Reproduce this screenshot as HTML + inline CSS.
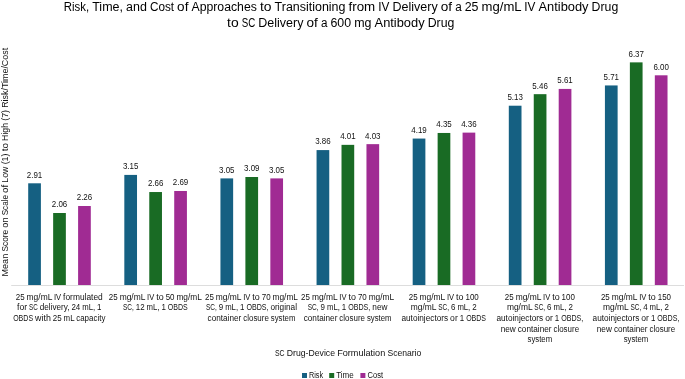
<!DOCTYPE html>
<html><head><meta charset="utf-8"><title>Risk, Time, and Cost chart</title>
<style>
html,body{margin:0;padding:0;background:#fff;}
body{width:685px;height:379px;overflow:hidden;}
svg{display:block;font-family:"Liberation Sans", sans-serif;}
</style></head><body>
<svg width="685" height="379" viewBox="0 0 685 379">
<rect width="685" height="379" fill="#fff"/>
<text y="10.70" font-size="12.24" fill="#000"><tspan x="63.74" textLength="25.38" lengthAdjust="spacingAndGlyphs">Risk,</tspan> <tspan x="92.20" textLength="30.77" lengthAdjust="spacingAndGlyphs">Time,</tspan> <tspan x="126.04" textLength="20.80" lengthAdjust="spacingAndGlyphs">and</tspan> <tspan x="149.91" textLength="24.12" lengthAdjust="spacingAndGlyphs">Cost</tspan> <tspan x="177.12" textLength="11.33" lengthAdjust="spacingAndGlyphs">of</tspan> <tspan x="191.52" textLength="65.31" lengthAdjust="spacingAndGlyphs">Approaches</tspan> <tspan x="259.91" textLength="11.59" lengthAdjust="spacingAndGlyphs">to</tspan> <tspan x="274.59" textLength="70.89" lengthAdjust="spacingAndGlyphs">Transitioning</tspan> <tspan x="348.55" textLength="26.70" lengthAdjust="spacingAndGlyphs">from</tspan> <tspan x="378.34" textLength="11.14" lengthAdjust="spacingAndGlyphs">IV</tspan> <tspan x="392.55" textLength="45.11" lengthAdjust="spacingAndGlyphs">Delivery</tspan> <tspan x="440.74" textLength="11.33" lengthAdjust="spacingAndGlyphs">of</tspan> <tspan x="455.15" textLength="6.52" lengthAdjust="spacingAndGlyphs">a</tspan> <tspan x="464.74" textLength="13.78" lengthAdjust="spacingAndGlyphs">25</tspan> <tspan x="481.60" textLength="39.58" lengthAdjust="spacingAndGlyphs">mg/mL</tspan> <tspan x="524.26" textLength="11.14" lengthAdjust="spacingAndGlyphs">IV</tspan> <tspan x="538.48" textLength="50.06" lengthAdjust="spacingAndGlyphs">Antibody</tspan> <tspan x="591.62" textLength="26.64" lengthAdjust="spacingAndGlyphs">Drug</tspan></text>
<text y="26.80" font-size="12.24" fill="#000"><tspan x="227.04" textLength="11.59" lengthAdjust="spacingAndGlyphs">to</tspan> <tspan x="241.72" textLength="13.50" lengthAdjust="spacingAndGlyphs">SC</tspan> <tspan x="258.29" textLength="45.11" lengthAdjust="spacingAndGlyphs">Delivery</tspan> <tspan x="306.48" textLength="11.33" lengthAdjust="spacingAndGlyphs">of</tspan> <tspan x="320.89" textLength="6.52" lengthAdjust="spacingAndGlyphs">a</tspan> <tspan x="330.48" textLength="20.67" lengthAdjust="spacingAndGlyphs">600</tspan> <tspan x="354.23" textLength="17.27" lengthAdjust="spacingAndGlyphs">mg</tspan> <tspan x="374.57" textLength="50.06" lengthAdjust="spacingAndGlyphs">Antibody</tspan> <tspan x="427.72" textLength="26.64" lengthAdjust="spacingAndGlyphs">Drug</tspan></text>
<g transform="translate(7.90 276.57) rotate(-90)">
<text y="0.00" font-size="8.74" fill="#111"><tspan x="0.00" textLength="22.86" lengthAdjust="spacingAndGlyphs">Mean</tspan> <tspan x="25.05" textLength="21.69" lengthAdjust="spacingAndGlyphs">Score</tspan> <tspan x="48.92" textLength="10.20" lengthAdjust="spacingAndGlyphs">on</tspan> <tspan x="61.31" textLength="20.19" lengthAdjust="spacingAndGlyphs">Scale</tspan> <tspan x="83.69" textLength="8.08" lengthAdjust="spacingAndGlyphs">of</tspan> <tspan x="93.95" textLength="16.09" lengthAdjust="spacingAndGlyphs">Low</tspan> <tspan x="112.23" textLength="10.80" lengthAdjust="spacingAndGlyphs">(1)</tspan> <tspan x="125.22" textLength="8.27" lengthAdjust="spacingAndGlyphs">to</tspan> <tspan x="135.67" textLength="17.94" lengthAdjust="spacingAndGlyphs">High</tspan> <tspan x="155.80" textLength="10.80" lengthAdjust="spacingAndGlyphs">(7)</tspan> <tspan x="168.78" textLength="59.97" lengthAdjust="spacingAndGlyphs">Risk/Time/Cost</tspan></text>
</g>
<rect x="11.2" y="285.05" width="672.80" height="0.9" fill="#DADADA"/>
<rect x="28.20" y="183.30" width="12.7" height="101.70" fill="#156082"/>
<text y="177.70" font-size="8.30" fill="#111"><tspan x="26.82" textLength="15.47" lengthAdjust="spacingAndGlyphs">2.91</tspan></text>
<rect x="53.15" y="213.00" width="12.7" height="72.00" fill="#196B24"/>
<text y="207.40" font-size="8.30" fill="#111"><tspan x="51.77" textLength="15.47" lengthAdjust="spacingAndGlyphs">2.06</tspan></text>
<rect x="78.10" y="206.01" width="12.7" height="78.99" fill="#A02B93"/>
<text y="200.41" font-size="8.30" fill="#111"><tspan x="76.72" textLength="15.47" lengthAdjust="spacingAndGlyphs">2.26</tspan></text>
<text y="299.70" font-size="8.30" fill="#111"><tspan x="15.79" textLength="8.84" lengthAdjust="spacingAndGlyphs">25</tspan> <tspan x="26.60" textLength="25.44" lengthAdjust="spacingAndGlyphs">mg/mL</tspan> <tspan x="54.01" textLength="7.16" lengthAdjust="spacingAndGlyphs">IV</tspan> <tspan x="63.14" textLength="39.59" lengthAdjust="spacingAndGlyphs">formulated</tspan></text>
<text y="310.35" font-size="8.30" fill="#111"><tspan x="16.98" textLength="10.14" lengthAdjust="spacingAndGlyphs">for</tspan> <tspan x="29.09" textLength="8.67" lengthAdjust="spacingAndGlyphs">SC</tspan> <tspan x="39.73" textLength="29.73" lengthAdjust="spacingAndGlyphs">delivery,</tspan> <tspan x="71.43" textLength="8.84" lengthAdjust="spacingAndGlyphs">24</tspan> <tspan x="82.24" textLength="12.91" lengthAdjust="spacingAndGlyphs">mL,</tspan> <tspan x="97.12" textLength="4.42" lengthAdjust="spacingAndGlyphs">1</tspan></text>
<text y="321.00" font-size="8.30" fill="#111"><tspan x="13.16" textLength="19.92" lengthAdjust="spacingAndGlyphs">OBDS</tspan> <tspan x="35.05" textLength="15.77" lengthAdjust="spacingAndGlyphs">with</tspan> <tspan x="52.78" textLength="8.84" lengthAdjust="spacingAndGlyphs">25</tspan> <tspan x="63.60" textLength="10.66" lengthAdjust="spacingAndGlyphs">mL</tspan> <tspan x="76.22" textLength="29.14" lengthAdjust="spacingAndGlyphs">capacity</tspan></text>
<rect x="124.32" y="174.91" width="12.7" height="110.09" fill="#156082"/>
<text y="169.31" font-size="8.30" fill="#111"><tspan x="122.94" textLength="15.47" lengthAdjust="spacingAndGlyphs">3.15</tspan></text>
<rect x="149.27" y="192.03" width="12.7" height="92.97" fill="#196B24"/>
<text y="186.43" font-size="8.30" fill="#111"><tspan x="147.89" textLength="15.47" lengthAdjust="spacingAndGlyphs">2.66</tspan></text>
<rect x="174.22" y="190.98" width="12.7" height="94.02" fill="#A02B93"/>
<text y="185.38" font-size="8.30" fill="#111"><tspan x="172.84" textLength="15.47" lengthAdjust="spacingAndGlyphs">2.69</tspan></text>
<text y="299.70" font-size="8.30" fill="#111"><tspan x="108.87" textLength="8.84" lengthAdjust="spacingAndGlyphs">25</tspan> <tspan x="119.68" textLength="25.44" lengthAdjust="spacingAndGlyphs">mg/mL</tspan> <tspan x="147.09" textLength="7.16" lengthAdjust="spacingAndGlyphs">IV</tspan> <tspan x="156.22" textLength="7.45" lengthAdjust="spacingAndGlyphs">to</tspan> <tspan x="165.64" textLength="8.84" lengthAdjust="spacingAndGlyphs">50</tspan> <tspan x="176.45" textLength="25.44" lengthAdjust="spacingAndGlyphs">mg/mL</tspan></text>
<text y="310.35" font-size="8.30" fill="#111"><tspan x="122.99" textLength="10.81" lengthAdjust="spacingAndGlyphs">SC,</tspan> <tspan x="135.77" textLength="8.84" lengthAdjust="spacingAndGlyphs">12</tspan> <tspan x="146.58" textLength="12.91" lengthAdjust="spacingAndGlyphs">mL,</tspan> <tspan x="161.46" textLength="4.42" lengthAdjust="spacingAndGlyphs">1</tspan> <tspan x="167.85" textLength="19.92" lengthAdjust="spacingAndGlyphs">OBDS</tspan></text>
<rect x="220.44" y="178.40" width="12.7" height="106.60" fill="#156082"/>
<text y="172.80" font-size="8.30" fill="#111"><tspan x="219.06" textLength="15.47" lengthAdjust="spacingAndGlyphs">3.05</tspan></text>
<rect x="245.39" y="177.00" width="12.7" height="108.00" fill="#196B24"/>
<text y="171.40" font-size="8.30" fill="#111"><tspan x="244.01" textLength="15.47" lengthAdjust="spacingAndGlyphs">3.09</tspan></text>
<rect x="270.34" y="178.40" width="12.7" height="106.60" fill="#A02B93"/>
<text y="172.80" font-size="8.30" fill="#111"><tspan x="268.96" textLength="15.47" lengthAdjust="spacingAndGlyphs">3.05</tspan></text>
<text y="299.70" font-size="8.30" fill="#111"><tspan x="204.99" textLength="8.84" lengthAdjust="spacingAndGlyphs">25</tspan> <tspan x="215.80" textLength="25.44" lengthAdjust="spacingAndGlyphs">mg/mL</tspan> <tspan x="243.21" textLength="7.16" lengthAdjust="spacingAndGlyphs">IV</tspan> <tspan x="252.34" textLength="7.45" lengthAdjust="spacingAndGlyphs">to</tspan> <tspan x="261.76" textLength="8.84" lengthAdjust="spacingAndGlyphs">70</tspan> <tspan x="272.57" textLength="25.44" lengthAdjust="spacingAndGlyphs">mg/mL</tspan></text>
<text y="310.35" font-size="8.30" fill="#111"><tspan x="205.98" textLength="10.81" lengthAdjust="spacingAndGlyphs">SC,</tspan> <tspan x="218.76" textLength="4.42" lengthAdjust="spacingAndGlyphs">9</tspan> <tspan x="225.15" textLength="12.91" lengthAdjust="spacingAndGlyphs">mL,</tspan> <tspan x="240.02" textLength="4.42" lengthAdjust="spacingAndGlyphs">1</tspan> <tspan x="246.41" textLength="22.09" lengthAdjust="spacingAndGlyphs">OBDS,</tspan> <tspan x="270.48" textLength="26.55" lengthAdjust="spacingAndGlyphs">original</tspan></text>
<text y="321.00" font-size="8.30" fill="#111"><tspan x="207.56" textLength="33.72" lengthAdjust="spacingAndGlyphs">container</tspan> <tspan x="243.25" textLength="25.59" lengthAdjust="spacingAndGlyphs">closure</tspan> <tspan x="270.81" textLength="24.62" lengthAdjust="spacingAndGlyphs">system</tspan></text>
<rect x="316.56" y="150.09" width="12.7" height="134.91" fill="#156082"/>
<text y="144.49" font-size="8.30" fill="#111"><tspan x="315.18" textLength="15.47" lengthAdjust="spacingAndGlyphs">3.86</tspan></text>
<rect x="341.51" y="144.85" width="12.7" height="140.15" fill="#196B24"/>
<text y="139.25" font-size="8.30" fill="#111"><tspan x="340.13" textLength="15.47" lengthAdjust="spacingAndGlyphs">4.01</tspan></text>
<rect x="366.46" y="144.15" width="12.7" height="140.85" fill="#A02B93"/>
<text y="138.55" font-size="8.30" fill="#111"><tspan x="365.08" textLength="15.47" lengthAdjust="spacingAndGlyphs">4.03</tspan></text>
<text y="299.70" font-size="8.30" fill="#111"><tspan x="301.11" textLength="8.84" lengthAdjust="spacingAndGlyphs">25</tspan> <tspan x="311.92" textLength="25.44" lengthAdjust="spacingAndGlyphs">mg/mL</tspan> <tspan x="339.33" textLength="7.16" lengthAdjust="spacingAndGlyphs">IV</tspan> <tspan x="348.46" textLength="7.45" lengthAdjust="spacingAndGlyphs">to</tspan> <tspan x="357.88" textLength="8.84" lengthAdjust="spacingAndGlyphs">70</tspan> <tspan x="368.69" textLength="25.44" lengthAdjust="spacingAndGlyphs">mg/mL</tspan></text>
<text y="310.35" font-size="8.30" fill="#111"><tspan x="307.80" textLength="10.81" lengthAdjust="spacingAndGlyphs">SC,</tspan> <tspan x="320.58" textLength="4.42" lengthAdjust="spacingAndGlyphs">9</tspan> <tspan x="326.97" textLength="12.91" lengthAdjust="spacingAndGlyphs">mL,</tspan> <tspan x="341.85" textLength="4.42" lengthAdjust="spacingAndGlyphs">1</tspan> <tspan x="348.24" textLength="22.09" lengthAdjust="spacingAndGlyphs">OBDS,</tspan> <tspan x="372.30" textLength="15.14" lengthAdjust="spacingAndGlyphs">new</tspan></text>
<text y="321.00" font-size="8.30" fill="#111"><tspan x="303.68" textLength="33.72" lengthAdjust="spacingAndGlyphs">container</tspan> <tspan x="339.37" textLength="25.59" lengthAdjust="spacingAndGlyphs">closure</tspan> <tspan x="366.93" textLength="24.62" lengthAdjust="spacingAndGlyphs">system</tspan></text>
<rect x="412.68" y="138.56" width="12.7" height="146.44" fill="#156082"/>
<text y="132.96" font-size="8.30" fill="#111"><tspan x="411.30" textLength="15.47" lengthAdjust="spacingAndGlyphs">4.19</tspan></text>
<rect x="437.63" y="132.97" width="12.7" height="152.03" fill="#196B24"/>
<text y="127.37" font-size="8.30" fill="#111"><tspan x="436.25" textLength="15.47" lengthAdjust="spacingAndGlyphs">4.35</tspan></text>
<rect x="462.58" y="132.62" width="12.7" height="152.38" fill="#A02B93"/>
<text y="127.02" font-size="8.30" fill="#111"><tspan x="461.20" textLength="15.47" lengthAdjust="spacingAndGlyphs">4.36</tspan></text>
<text y="299.70" font-size="8.30" fill="#111"><tspan x="408.72" textLength="8.84" lengthAdjust="spacingAndGlyphs">25</tspan> <tspan x="419.54" textLength="25.44" lengthAdjust="spacingAndGlyphs">mg/mL</tspan> <tspan x="446.94" textLength="7.16" lengthAdjust="spacingAndGlyphs">IV</tspan> <tspan x="456.07" textLength="7.45" lengthAdjust="spacingAndGlyphs">to</tspan> <tspan x="465.49" textLength="13.27" lengthAdjust="spacingAndGlyphs">100</tspan></text>
<text y="310.35" font-size="8.30" fill="#111"><tspan x="410.80" textLength="25.44" lengthAdjust="spacingAndGlyphs">mg/mL</tspan> <tspan x="438.21" textLength="10.81" lengthAdjust="spacingAndGlyphs">SC,</tspan> <tspan x="450.99" textLength="4.42" lengthAdjust="spacingAndGlyphs">6</tspan> <tspan x="457.38" textLength="12.91" lengthAdjust="spacingAndGlyphs">mL,</tspan> <tspan x="472.26" textLength="4.42" lengthAdjust="spacingAndGlyphs">2</tspan></text>
<text y="321.00" font-size="8.30" fill="#111"><tspan x="401.43" textLength="46.72" lengthAdjust="spacingAndGlyphs">autoinjectors</tspan> <tspan x="450.12" textLength="7.66" lengthAdjust="spacingAndGlyphs">or</tspan> <tspan x="459.74" textLength="4.42" lengthAdjust="spacingAndGlyphs">1</tspan> <tspan x="466.13" textLength="19.92" lengthAdjust="spacingAndGlyphs">OBDS</tspan></text>
<rect x="508.80" y="105.71" width="12.7" height="179.29" fill="#156082"/>
<text y="100.11" font-size="8.30" fill="#111"><tspan x="507.42" textLength="15.47" lengthAdjust="spacingAndGlyphs">5.13</tspan></text>
<rect x="533.75" y="94.17" width="12.7" height="190.83" fill="#196B24"/>
<text y="88.57" font-size="8.30" fill="#111"><tspan x="532.37" textLength="15.47" lengthAdjust="spacingAndGlyphs">5.46</tspan></text>
<rect x="558.70" y="88.93" width="12.7" height="196.07" fill="#A02B93"/>
<text y="83.33" font-size="8.30" fill="#111"><tspan x="557.32" textLength="15.47" lengthAdjust="spacingAndGlyphs">5.61</tspan></text>
<text y="299.70" font-size="8.30" fill="#111"><tspan x="504.84" textLength="8.84" lengthAdjust="spacingAndGlyphs">25</tspan> <tspan x="515.66" textLength="25.44" lengthAdjust="spacingAndGlyphs">mg/mL</tspan> <tspan x="543.06" textLength="7.16" lengthAdjust="spacingAndGlyphs">IV</tspan> <tspan x="552.19" textLength="7.45" lengthAdjust="spacingAndGlyphs">to</tspan> <tspan x="561.61" textLength="13.27" lengthAdjust="spacingAndGlyphs">100</tspan></text>
<text y="310.35" font-size="8.30" fill="#111"><tspan x="506.92" textLength="25.44" lengthAdjust="spacingAndGlyphs">mg/mL</tspan> <tspan x="534.33" textLength="10.81" lengthAdjust="spacingAndGlyphs">SC,</tspan> <tspan x="547.11" textLength="4.42" lengthAdjust="spacingAndGlyphs">6</tspan> <tspan x="553.50" textLength="12.91" lengthAdjust="spacingAndGlyphs">mL,</tspan> <tspan x="568.38" textLength="4.42" lengthAdjust="spacingAndGlyphs">2</tspan></text>
<text y="321.00" font-size="8.30" fill="#111"><tspan x="496.46" textLength="46.72" lengthAdjust="spacingAndGlyphs">autoinjectors</tspan> <tspan x="545.15" textLength="7.66" lengthAdjust="spacingAndGlyphs">or</tspan> <tspan x="554.77" textLength="4.42" lengthAdjust="spacingAndGlyphs">1</tspan> <tspan x="561.16" textLength="22.09" lengthAdjust="spacingAndGlyphs">OBDS,</tspan></text>
<text y="331.65" font-size="8.30" fill="#111"><tspan x="500.66" textLength="15.14" lengthAdjust="spacingAndGlyphs">new</tspan> <tspan x="517.77" textLength="33.72" lengthAdjust="spacingAndGlyphs">container</tspan> <tspan x="553.46" textLength="25.59" lengthAdjust="spacingAndGlyphs">closure</tspan></text>
<text y="342.30" font-size="8.30" fill="#111"><tspan x="527.55" textLength="24.62" lengthAdjust="spacingAndGlyphs">system</tspan></text>
<rect x="604.92" y="85.44" width="12.7" height="199.56" fill="#156082"/>
<text y="79.84" font-size="8.30" fill="#111"><tspan x="603.54" textLength="15.47" lengthAdjust="spacingAndGlyphs">5.71</tspan></text>
<rect x="629.87" y="62.37" width="12.7" height="222.63" fill="#196B24"/>
<text y="56.77" font-size="8.30" fill="#111"><tspan x="628.49" textLength="15.47" lengthAdjust="spacingAndGlyphs">6.37</tspan></text>
<rect x="654.82" y="75.30" width="12.7" height="209.70" fill="#A02B93"/>
<text y="69.70" font-size="8.30" fill="#111"><tspan x="653.44" textLength="15.47" lengthAdjust="spacingAndGlyphs">6.00</tspan></text>
<text y="299.70" font-size="8.30" fill="#111"><tspan x="600.96" textLength="8.84" lengthAdjust="spacingAndGlyphs">25</tspan> <tspan x="611.78" textLength="25.44" lengthAdjust="spacingAndGlyphs">mg/mL</tspan> <tspan x="639.18" textLength="7.16" lengthAdjust="spacingAndGlyphs">IV</tspan> <tspan x="648.31" textLength="7.45" lengthAdjust="spacingAndGlyphs">to</tspan> <tspan x="657.73" textLength="13.27" lengthAdjust="spacingAndGlyphs">150</tspan></text>
<text y="310.35" font-size="8.30" fill="#111"><tspan x="603.04" textLength="25.44" lengthAdjust="spacingAndGlyphs">mg/mL</tspan> <tspan x="630.45" textLength="10.81" lengthAdjust="spacingAndGlyphs">SC,</tspan> <tspan x="643.23" textLength="4.42" lengthAdjust="spacingAndGlyphs">4</tspan> <tspan x="649.62" textLength="12.91" lengthAdjust="spacingAndGlyphs">mL,</tspan> <tspan x="664.50" textLength="4.42" lengthAdjust="spacingAndGlyphs">2</tspan></text>
<text y="321.00" font-size="8.30" fill="#111"><tspan x="592.58" textLength="46.72" lengthAdjust="spacingAndGlyphs">autoinjectors</tspan> <tspan x="641.27" textLength="7.66" lengthAdjust="spacingAndGlyphs">or</tspan> <tspan x="650.89" textLength="4.42" lengthAdjust="spacingAndGlyphs">1</tspan> <tspan x="657.28" textLength="22.09" lengthAdjust="spacingAndGlyphs">OBDS,</tspan></text>
<text y="331.65" font-size="8.30" fill="#111"><tspan x="596.78" textLength="15.14" lengthAdjust="spacingAndGlyphs">new</tspan> <tspan x="613.89" textLength="33.72" lengthAdjust="spacingAndGlyphs">container</tspan> <tspan x="649.58" textLength="25.59" lengthAdjust="spacingAndGlyphs">closure</tspan></text>
<text y="342.30" font-size="8.30" fill="#111"><tspan x="623.67" textLength="24.62" lengthAdjust="spacingAndGlyphs">system</tspan></text>
<text y="355.90" font-size="9.22" fill="#111"><tspan x="274.90" textLength="9.62" lengthAdjust="spacingAndGlyphs">SC</tspan> <tspan x="286.72" textLength="48.28" lengthAdjust="spacingAndGlyphs">Drug-Device</tspan> <tspan x="337.19" textLength="48.06" lengthAdjust="spacingAndGlyphs">Formulation</tspan> <tspan x="387.44" textLength="33.86" lengthAdjust="spacingAndGlyphs">Scenario</tspan></text>
<rect x="302.0" y="373" width="5" height="5" fill="#156082"/>
<text y="378.00" font-size="8.30" fill="#111"><tspan x="309.00" textLength="14.14" lengthAdjust="spacingAndGlyphs">Risk</tspan></text>
<rect x="329.2" y="373" width="5" height="5" fill="#196B24"/>
<text y="378.00" font-size="8.30" fill="#111"><tspan x="336.20" textLength="17.58" lengthAdjust="spacingAndGlyphs">Time</tspan></text>
<rect x="360.4" y="373" width="5" height="5" fill="#A02B93"/>
<text y="378.00" font-size="8.30" fill="#111"><tspan x="367.50" textLength="15.52" lengthAdjust="spacingAndGlyphs">Cost</tspan></text>
</svg>
</body></html>
